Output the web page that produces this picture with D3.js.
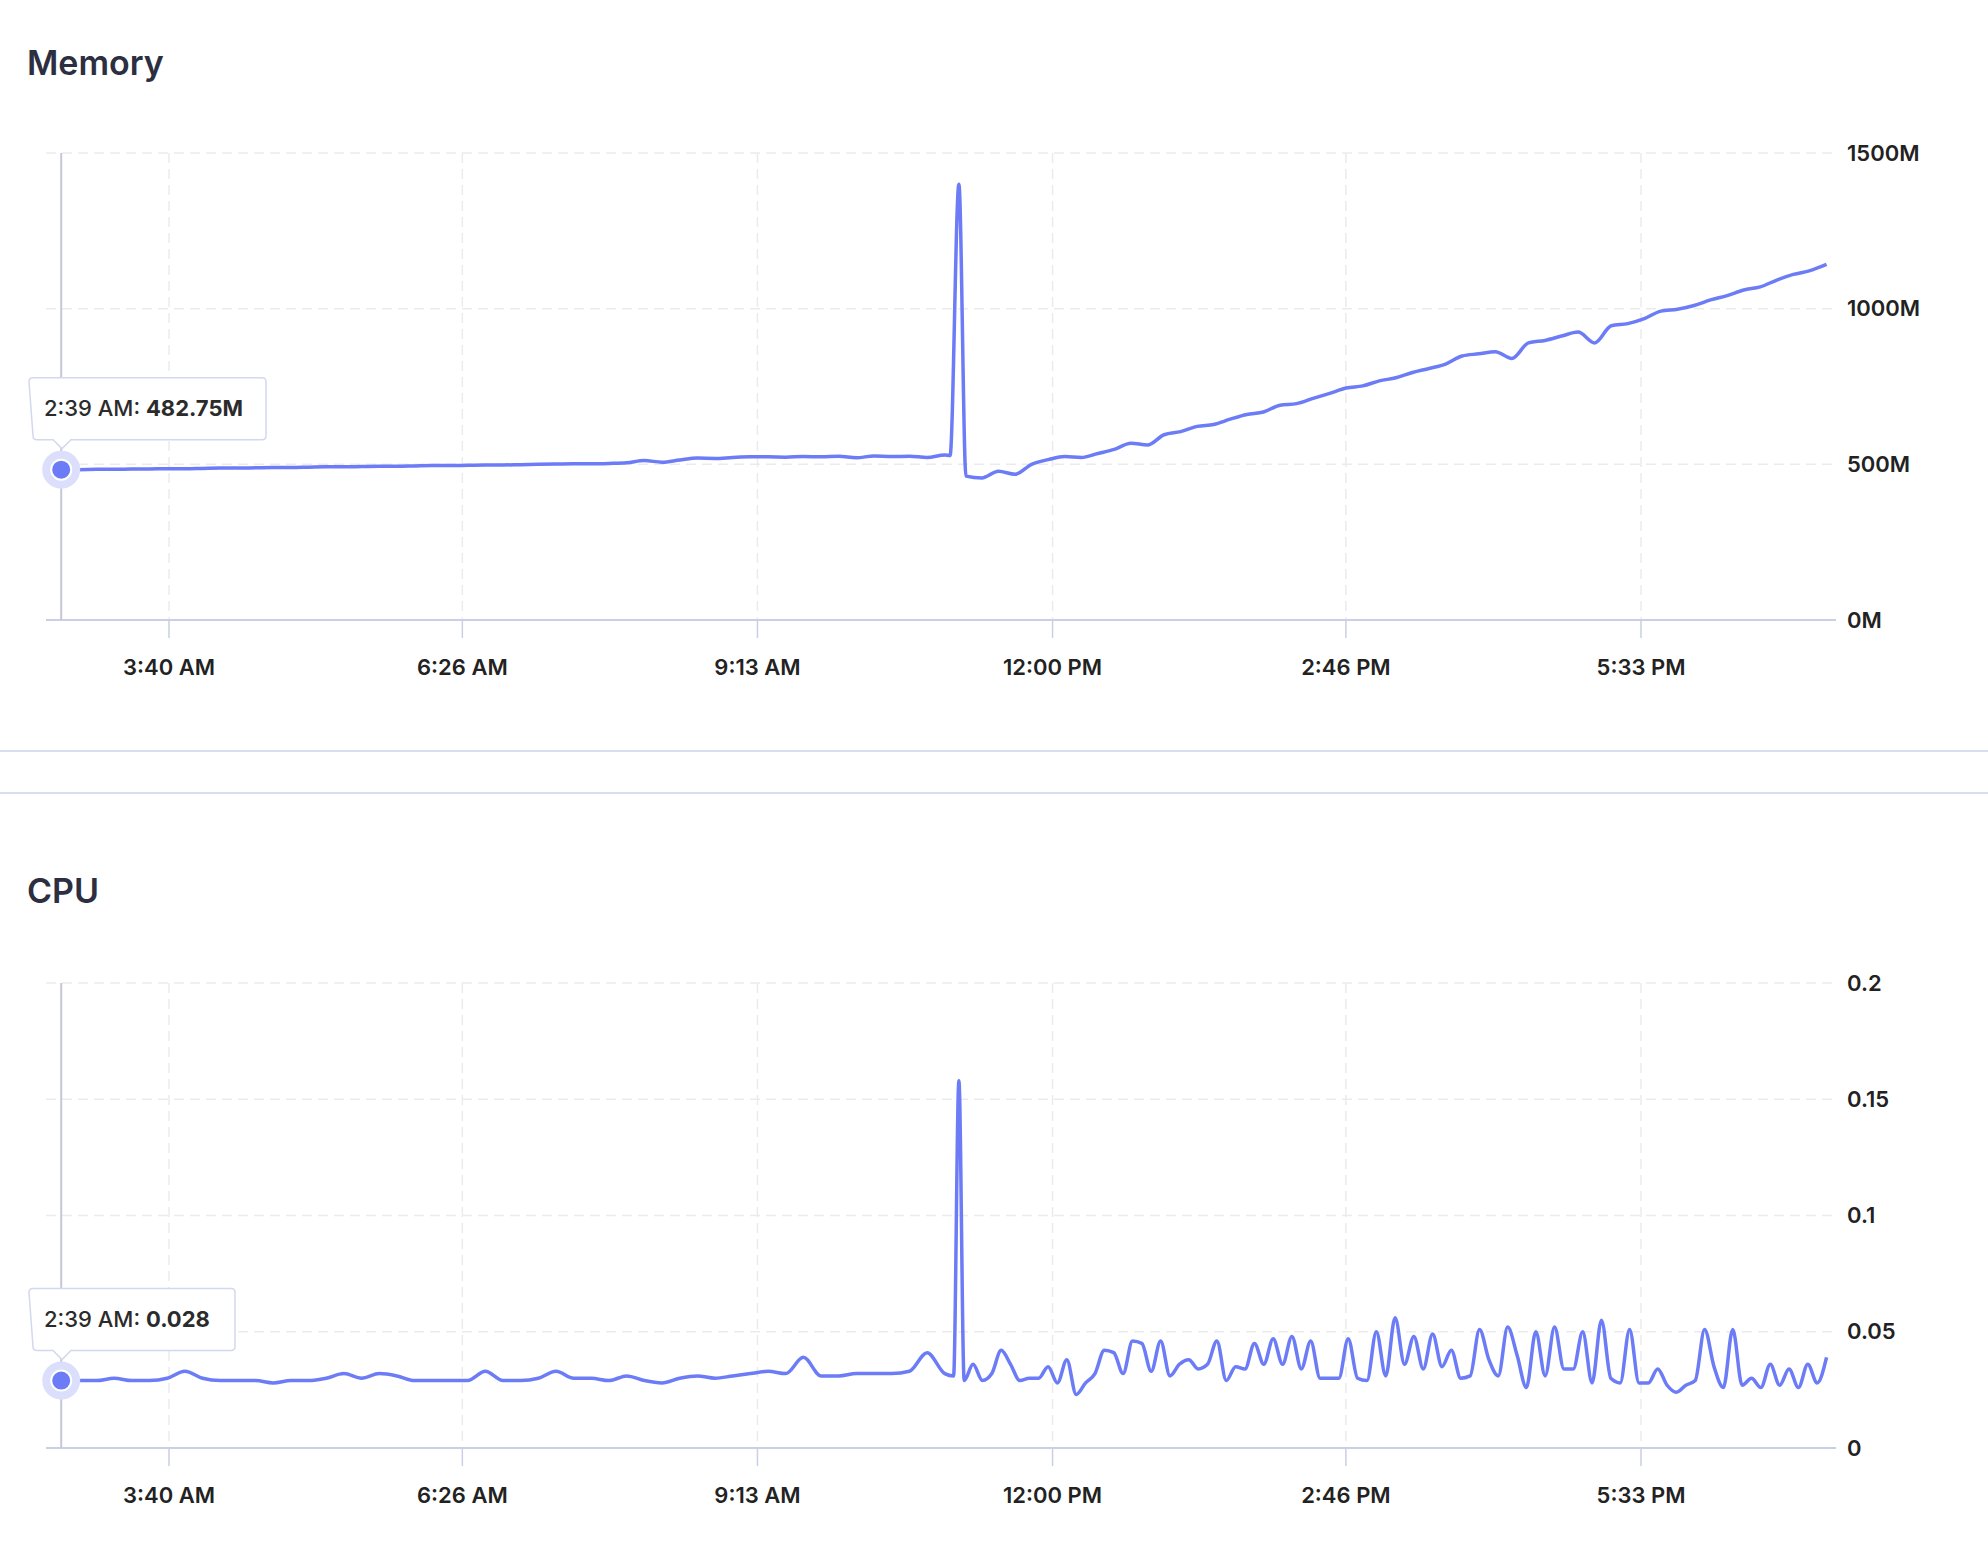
<!DOCTYPE html>
<html><head><meta charset="utf-8">
<script src="https://cdn.jsdelivr.net/npm/d3@7"></script>
<style>body{margin:0;background:#fff;font-family:Inter,"Noto Sans",sans-serif;}</style>
</head><body><svg id="c" width="1988" height="1552"></svg>
<script>
// minutes since midnight, helpers for data times
const hm = s => { const [h, m] = s.split(':').map(Number); return h * 60 + m; };

const xTicks = ['3:40', '6:26', '9:13', '12:00', '14:46', '17:33'];
const xTickLabels = ['3:40 AM', '6:26 AM', '9:13 AM', '12:00 PM', '2:46 PM', '5:33 PM'];

// memory (M): 10-minute samples from 2:39, spike near 11:07, evenly spaced samples 11:20 - 19:18
const memEarly = [483,483,484,484,485,485,486,486,487,488,488,489,490,490,491,492,492,493,494,494,495,496,496,497,498,498,499,500,501,502,502,503,505,512,507,514,520,519,522,524,524,523,525,524,526,521,527,525,526,522,530];
const memSpike = [['11:02', 528], ['11:07', 1400], ['11:11', 462]];
const memLate = [456,478,468,500,515,525,522,535,548,568,562,595,605,622,628,645,660,668,690,695,712,728,745,752,768,778,795,808,822,848,855,862,840,890,898,912,925,890,945,952,968,992,998,1010,1028,1042,1060,1070,1092,1110,1122,1142];

// cpu: 10-minute samples from 2:39, spike, then evenly spaced samples 11:15 - 19:18
const cpuEarly = [.029,.029,.029,.030,.029,.029,.030,.033,.030,.029,.029,.029,.028,.029,.029,.030,.032,.030,.032,.031,.029,.029,.029,.029,.033,.029,.029,.030,.033,.030,.030,.029,.031,.029,.028,.030,.031,.030,.031,.032,.033,.032,.039,.031,.031,.032,.032,.032,.033,.041,.032];
const cpuSpike = [['11:04', .031], ['11:07', .158], ['11:10', .029]];
const cpuLate = [.036,.029,.032,.042,.036,.029,.030,.030,.035,.028,.038,.023,.028,.032,.042,.041,.032,.046,.045,.033,.046,.031,.036,.038,.034,.036,.046,.029,.035,.034,.045,.036,.047,.036,.048,.034,.046,.030,.030,.030,.047,.030,.029,.050,.031,.056,.036,.048,.034,.049,.035,.042,.030,.031,.051,.038,.031,.052,.040,.026,.050,.031,.052,.034,.034,.050,.028,.055,.030,.028,.051,.028,.028,.034,.027,.024,.027,.029,.051,.035,.026,.051,.027,.030,.026,.036,.027,.034,.026,.036,.028,.039];

function series(early, t0, stepE, spike, t1, t2, late) {
  const pts = early.map((v, i) => [hm(t0) + i * stepE, v]);
  spike.forEach(([t, v]) => pts.push([hm(t), v]));
  const step = (hm(t2) - hm(t1)) / (late.length - 1);
  late.forEach((v, i) => pts.push([hm(t1) + i * step, v]));
  return pts;
}
const memData = series(memEarly, '2:39', 10, memSpike, '11:20', '19:18', memLate);
const cpuData = series(cpuEarly, '2:39', 10, cpuSpike, '11:15', '19:18', cpuLate);

const svg = d3.select('#c');
const x = d3.scaleLinear().domain([hm('3:40'), hm('17:33')]).range([169, 1641]);
const gridL = 46, gridR = 1836, lineColor = '#6b7cf6';

function panel(cfg) {
  const y = d3.scaleLinear().domain(cfg.domain).range([cfg.bottom, cfg.top]);
  const g = svg.append('g');
  g.append('text').attr('x', 27).attr('y', cfg.titleY).attr('font-size', 34).attr('font-weight', 600)
    .attr('fill', '#2b2f3f').text(cfg.title);
  cfg.yTicks.forEach((t, i) => {
    if (t !== cfg.domain[0]) g.append('line').attr('x1', gridL).attr('x2', gridR).attr('y1', y(t)).attr('y2', y(t))
      .attr('stroke', '#ebebee').attr('stroke-width', 1.5).attr('stroke-dasharray', '10,6');
    g.append('text').attr('x', 1847).attr('y', y(t)).attr('dy', '0.35em').attr('font-size', 22).attr('font-weight', 600)
      .attr('fill', '#222').text(cfg.yLabels[i]);
  });
  xTicks.forEach((t, i) => {
    const xx = x(hm(t));
    g.append('line').attr('x1', xx).attr('x2', xx).attr('y1', cfg.top).attr('y2', cfg.bottom)
      .attr('stroke', '#ebebee').attr('stroke-width', 1.5).attr('stroke-dasharray', '10,6');
    g.append('line').attr('x1', xx).attr('x2', xx).attr('y1', cfg.bottom).attr('y2', cfg.bottom + 18)
      .attr('stroke', '#c9cfe6').attr('stroke-width', 1.5);
    g.append('text').attr('x', xx).attr('y', cfg.bottom + 47).attr('dy', '0.35em').attr('text-anchor', 'middle')
      .attr('font-size', 22).attr('font-weight', 600).attr('fill', '#222').text(xTickLabels[i]);
  });
  g.append('line').attr('x1', gridL).attr('x2', gridR).attr('y1', cfg.bottom).attr('y2', cfg.bottom)
    .attr('stroke', '#c9cfe6').attr('stroke-width', 2);
  const hx = x(cfg.data[0][0]);
  g.append('line').attr('x1', hx).attr('x2', hx).attr('y1', cfg.top).attr('y2', cfg.bottom)
    .attr('stroke', '#c5c8d6').attr('stroke-width', 2);
  g.append('path').datum(cfg.data).attr('fill', 'none').attr('stroke', lineColor).attr('stroke-width', 3.5)
    .attr('d', d3.line().x(d => x(d[0])).y(d => y(d[1])).curve(d3.curveMonotoneX));
  const hy = y(cfg.data[0][1]);
  g.append('circle').attr('cx', hx).attr('cy', hy).attr('r', 19).attr('fill', '#dcdffb');
  g.append('circle').attr('cx', hx).attr('cy', hy).attr('r', 10).attr('fill', lineColor).attr('stroke', '#fff').attr('stroke-width', 2);
  const tw = cfg.tipW, ty = hy - 92;
  g.append('path').attr('d', `M29,${ty + 4} q0,-4 4,-4 h${tw - 8} q4,0 4,4 v54 q0,4 -4,4 h${-(tw - 8) + 38} l-9,9 l-9,-9 h-16 q-4,0 -4,-4 z`)
    .attr('fill', '#fff').attr('stroke', '#d3d8ee').attr('stroke-width', 1.5);
  const tt = g.append('text').attr('x', 44).attr('y', ty + 31).attr('dy', '0.35em').attr('font-size', 22).attr('fill', '#2b2b2b');
  tt.append('tspan').attr('font-weight', 500).text('2:39 AM: ');
  tt.append('tspan').attr('font-weight', 700).text(cfg.tip);
}

panel({ title: 'Memory', titleY: 75, top: 153, bottom: 620, domain: [0, 1500],
  yTicks: [0, 500, 1000, 1500], yLabels: ['0M', '500M', '1000M', '1500M'],
  data: memData, tip: '482.75M', tipW: 237 });

svg.append('line').attr('x1', 0).attr('x2', 1988).attr('y1', 751).attr('y2', 751).attr('stroke', '#cdd3ec').attr('stroke-width', 1.5);
svg.append('line').attr('x1', 0).attr('x2', 1988).attr('y1', 793).attr('y2', 793).attr('stroke', '#cdd3ec').attr('stroke-width', 1.5);

panel({ title: 'CPU', titleY: 903, top: 983, bottom: 1448, domain: [0, 0.2],
  yTicks: [0, 0.05, 0.1, 0.15, 0.2], yLabels: ['0', '0.05', '0.1', '0.15', '0.2'],
  data: cpuData, tip: '0.028', tipW: 206 });
</script></body></html>
